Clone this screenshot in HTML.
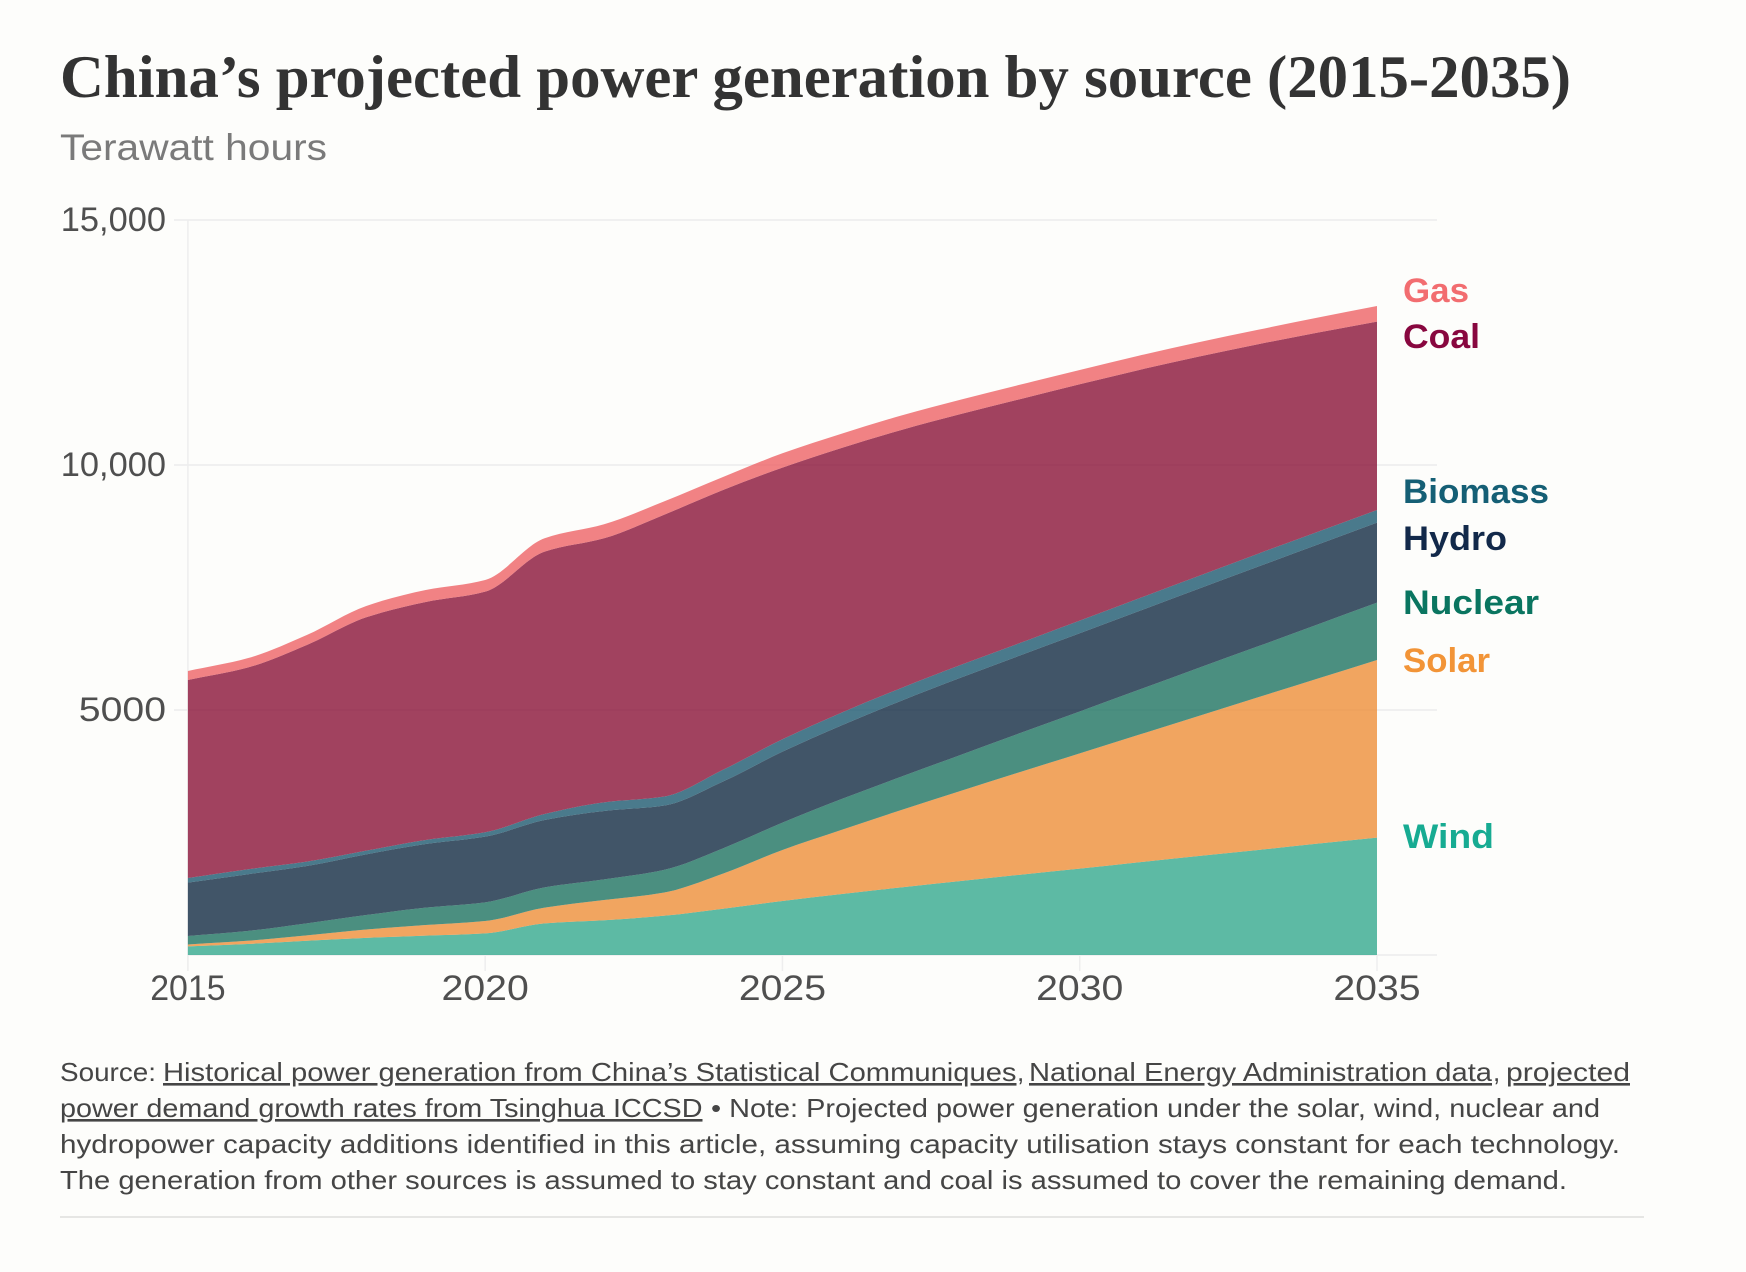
<!DOCTYPE html>
<html lang="en">
<head>
<meta charset="utf-8">
<title>China's projected power generation by source (2015-2035)</title>
<style>
html,body{margin:0;padding:0;background:#fdfdfb;}
body{width:1746px;height:1272px;overflow:hidden;}
svg{display:block;}
text{font-family:"Liberation Sans",sans-serif;}
.foot{font-size:26px;fill:#454545;}
.link{text-decoration:underline;}
.lab{font-size:34px;font-weight:700;}
</style>
</head>
<body>
<svg id="chart" width="1746" height="1272" viewBox="0 0 1746 1272" xmlns="http://www.w3.org/2000/svg">
<rect x="0" y="0" width="1746" height="1272" fill="#fdfdfb"/>
<text x="60" y="97" font-size="60" font-weight="700" fill="#333333" textLength="1511" lengthAdjust="spacingAndGlyphs" style="font-family:'Liberation Serif',serif">China’s projected power generation by source (2015-2035)</text>
<text x="60" y="160" font-size="37" fill="#7a7a7a" textLength="267" lengthAdjust="spacingAndGlyphs">Terawatt hours</text>
<g id="grid"></g>
<g id="areas"></g>
<g id="ticks"></g>
<text class="lab" x="1403" y="302" fill="#f26d70" textLength="66" lengthAdjust="spacingAndGlyphs">Gas</text>
<text class="lab" x="1403" y="348" fill="#88073f" textLength="77" lengthAdjust="spacingAndGlyphs">Coal</text>
<text class="lab" x="1403" y="503" fill="#155f75" textLength="146" lengthAdjust="spacingAndGlyphs">Biomass</text>
<text class="lab" x="1403" y="550" fill="#12294a" textLength="104" lengthAdjust="spacingAndGlyphs">Hydro</text>
<text class="lab" x="1403" y="614" fill="#0a7560" textLength="136" lengthAdjust="spacingAndGlyphs">Nuclear</text>
<text class="lab" x="1403" y="672" fill="#f29437" textLength="87" lengthAdjust="spacingAndGlyphs">Solar</text>
<text class="lab" x="1403" y="848" fill="#17ab92" textLength="91" lengthAdjust="spacingAndGlyphs">Wind</text>
<g>
<text class="foot" x="60" y="1081" textLength="96" lengthAdjust="spacingAndGlyphs">Source:</text>
<text class="foot link" x="163" y="1081" textLength="853.5" lengthAdjust="spacingAndGlyphs">Historical power generation from China’s Statistical Communiques</text>
<text class="foot" x="1017" y="1081">,</text>
<text class="foot link" x="1029" y="1081" textLength="463" lengthAdjust="spacingAndGlyphs">National Energy Administration data</text>
<text class="foot" x="1493" y="1081">,</text>
<text class="foot link" x="1506" y="1081" textLength="124" lengthAdjust="spacingAndGlyphs">projected</text>
<text class="foot link" x="60" y="1117" textLength="642.5" lengthAdjust="spacingAndGlyphs">power demand growth rates from Tsinghua ICCSD</text>
<text class="foot" x="711" y="1117" textLength="889" lengthAdjust="spacingAndGlyphs">• Note: Projected power generation under the solar, wind, nuclear and</text>
<text class="foot" x="60" y="1153" textLength="1560" lengthAdjust="spacingAndGlyphs">hydropower capacity additions identified in this article, assuming capacity utilisation stays constant for each technology.</text>
<text class="foot" x="60" y="1189" textLength="1507" lengthAdjust="spacingAndGlyphs">The generation from other sources is assumed to stay constant and coal is assumed to cover the remaining demand.</text>
</g>
<rect x="60" y="1216" width="1584" height="2" fill="#e6e6e4"/>
</svg>
<script>
const years = [2015,2016,2017,2018,2019,2020,2021,2022,2023,2024,2025,2026,2027,2028,2029,2030,2031,2032,2033,2034,2035];
const wind = [175,225,290,350,395,442,646,710,800,945,1102,1245,1381,1510,1639,1762,1892,2021,2143,2272,2395];
const solar = [40,65,110,170,217,252,320,412,472,715,1041,1310,1579,1840,2096,2353,2605,2857,3117,3368,3626];
const nuclear = [173,200,246,296,354,381,415,422,463,517,558,630,680,735,795,855,918,982,1040,1105,1170];
const hydro = [1088,1156,1170,1238,1299,1340,1374,1395,1313,1363,1449,1505,1550,1575,1585,1596,1605,1615,1625,1630,1632];
const biomass = [95,102,89,75,82,89,123,177,183,240,252,260,260,260,255,257,260,260,265,260,259];
const coal = [4042,4116,4422,4763,4858,4911,5354,5388,5749,5710,5544,5400,5265,5120,4975,4824,4660,4476,4274,4066,3844];
const gas = [183,191,204,231,245,239,272,286,272,265,293,290,295,295,295,293,292,294,296,307,320];
const seriesNames = ['wind','solar','nuclear','hydro','biomass','coal','gas'];
const seriesValues = [wind,solar,nuclear,hydro,biomass,coal,gas];
const seriesColors = ['#34a98f','#ee8f39','#1e7361','#112a43','#1d5970','#8a1338','#ee6366'];
const xTickYears = [2015,2020,2025,2030,2035];
const xTickLabels = ['2015','2020','2025','2030','2035'];
const yTickValues = [0,5000,10000,15000];
const yTickLabels = ['','5000','10,000','15,000'];

const NS = 'http://www.w3.org/2000/svg';
const xScale = function (year) { return 187.9 + (year - 2015) * (1377 - 187.9) / 20; };
const yScale = function (value) { return 955 - value * (955 - 220) / 15000; };

function labelWidth(s) {
  let w = 0;
  for (const c of s) { w += c === '1' ? 10 : c === ',' ? 8 : 21.8; }
  return w;
}

function monotonePath(pts, reverse) {
  const p = reverse ? pts.slice().reverse() : pts;
  const n = p.length;
  const m = new Array(n);
  const d = [];
  for (let i = 0; i < n - 1; i++) { d.push((p[i + 1][1] - p[i][1]) / (p[i + 1][0] - p[i][0])); }
  m[0] = d[0];
  m[n - 1] = d[n - 2];
  for (let i = 1; i < n - 1; i++) {
    m[i] = d[i - 1] * d[i] <= 0 ? 0 : 2 * d[i - 1] * d[i] / (d[i - 1] + d[i]);
  }
  let s = '';
  for (let i = 0; i < n - 1; i++) {
    const h = (p[i + 1][0] - p[i][0]) / 3;
    s += 'C' + (p[i][0] + h).toFixed(2) + ' ' + (p[i][1] + h * m[i]).toFixed(2) + ' ' +
      (p[i + 1][0] - h).toFixed(2) + ' ' + (p[i + 1][1] - h * m[i + 1]).toFixed(2) + ' ' +
      p[i + 1][0].toFixed(2) + ' ' + p[i + 1][1].toFixed(2);
  }
  return s;
}

const gridGroup = document.getElementById('grid');
yTickValues.forEach(function (v, i) {
  const line = document.createElementNS(NS, 'line');
  
  
  line.setAttribute('x1', yTickLabels[i] ? 174 : xScale(2015));
  line.setAttribute('x2', 1437);
  line.setAttribute('y1', yScale(v));
  line.setAttribute('y2', yScale(v));
  line.setAttribute('stroke', '#f0f0f0');
  line.setAttribute('stroke-width', 2);
  gridGroup.appendChild(line);
  if (yTickLabels[i]) {
    const t = document.createElementNS(NS, 'text');
    
    
    t.setAttribute('x', 166 - labelWidth(yTickLabels[i]));
    t.setAttribute('y', yScale(v) + 11);
    t.setAttribute('font-size', 34);
    t.setAttribute('fill', '#4f4f4f');
    t.setAttribute('textLength', labelWidth(yTickLabels[i]));
    t.setAttribute('lengthAdjust', 'spacingAndGlyphs');
    t.textContent = yTickLabels[i];
    gridGroup.appendChild(t);
  }
});
const axisLine = document.createElementNS(NS, 'line');


axisLine.setAttribute('x1', xScale(2015));
axisLine.setAttribute('x2', xScale(2015));
axisLine.setAttribute('y1', yScale(15000));
axisLine.setAttribute('y2', 971);
axisLine.setAttribute('stroke', '#eeeeee');
axisLine.setAttribute('stroke-width', 1.5);
gridGroup.appendChild(axisLine);

const areaGroup = document.getElementById('areas');
let baseline = years.map(function () { return 0; });
seriesValues.forEach(function (values, si) {
  const top = values.map(function (v, i) { return v + baseline[i]; });
  const topPts = years.map(function (y, i) { return [xScale(y), yScale(top[i])]; });
  const botPts = years.map(function (y, i) { return [xScale(y), yScale(baseline[i])]; });
  const d = 'M' + topPts[0][0].toFixed(2) + ' ' + topPts[0][1].toFixed(2) + monotonePath(topPts, false) +
    'L' + botPts[botPts.length - 1][0].toFixed(2) + ' ' + botPts[botPts.length - 1][1].toFixed(2) +
    monotonePath(botPts, true) + 'Z';
  const path = document.createElementNS(NS, 'path');
  
  
  path.setAttribute('d', d);
  path.setAttribute('fill', seriesColors[si]);
  path.setAttribute('fill-opacity', '0.8');
  areaGroup.appendChild(path);
  baseline = top;
});

const tickGroup = document.getElementById('ticks');
xTickYears.forEach(function (y, i) {
  const tick = document.createElementNS(NS, 'line');
  
  
  tick.setAttribute('x1', xScale(y));
  tick.setAttribute('x2', xScale(y));
  tick.setAttribute('y1', 956);
  tick.setAttribute('y2', 971);
  tick.setAttribute('stroke', '#eeeeee');
  tick.setAttribute('stroke-width', 1.5);
  tickGroup.appendChild(tick);
  const t = document.createElementNS(NS, 'text');
  
  
  const w = labelWidth(xTickLabels[i]);
  t.setAttribute('x', xScale(y) - w / 2);
  t.setAttribute('y', 1000);
  t.setAttribute('font-size', 35);
  t.setAttribute('fill', '#4f4f4f');
  t.setAttribute('textLength', w);
  t.setAttribute('lengthAdjust', 'spacingAndGlyphs');
  t.textContent = xTickLabels[i];
  tickGroup.appendChild(t);
});
</script>
</body>
</html>
